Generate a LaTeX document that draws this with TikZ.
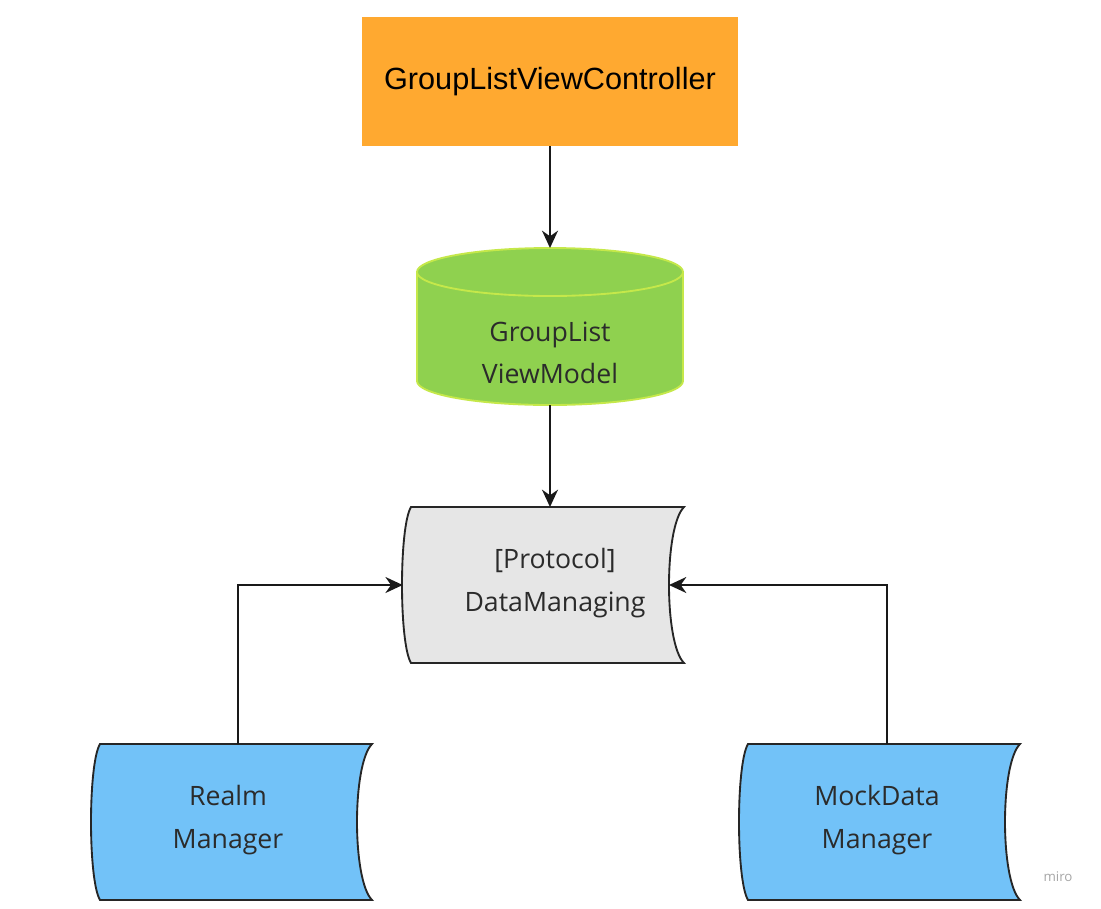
\documentclass[tikz,border=0pt]{standalone}
\usepackage{fontspec}
\setmainfont{Open Sans}
\newfontfamily\arialf{Liberation Sans}
\usetikzlibrary{shapes.geometric,arrows.meta}
\definecolor{orng}{HTML}{FFA930}
\definecolor{grn}{HTML}{8FD14F}
\definecolor{grnb}{HTML}{C5E84A}
\definecolor{gry}{HTML}{E6E6E6}
\definecolor{blu}{HTML}{72C2F8}
\definecolor{txt}{HTML}{2B2B2B}
\tikzset{
  lbl/.style={font=\fontsize{20}{32}\selectfont, text=txt, align=center},
  edge/.style={line width=1.5pt, -{Stealth[length=13pt,width=12pt]}, color=black!90},
  sd/.style={line width=1.4pt, draw=black!85},
}
\newcommand{\storeddata}[5]{% x1 y1 x2 y2 fill
  \filldraw[sd, fill=#5] (#1+8,#2) -- (#3,#2)
    .. controls (#3-20,#2+20) and (#3-20,#4-20) .. (#3,#4)
    -- (#1+8,#4)
    .. controls (#1-4,#4-20) and (#1-4,#2+20) .. (#1+8,#2) -- cycle;}
\begin{document}
\begin{tikzpicture}[x=0.75pt,y=-0.75pt]
\useasboundingbox (0,0) rectangle (1101,908);
% top box
\node[draw=none, fill=orng, minimum width=376*0.75pt, minimum height=129*0.75pt,
  font=\arialf\fontsize{23}{26}\selectfont, text=black] (vc) at (550,81.5) {GroupListViewController};
% cylinder
\filldraw[fill=grn, draw=grnb, line width=1.4pt]
  (417,272) -- (417,381) arc[start angle=180,end angle=0,x radius=133,y radius=24]
  -- (683,272) arc[start angle=0,end angle=-180,x radius=133,y radius=24];
\draw[draw=grnb, line width=1.4pt] (417,272) arc[start angle=180,end angle=0,x radius=133,y radius=24];
\node[minimum width=266*0.75pt, minimum height=157*0.75pt] (vm) at (550,326.5) {};
\node[lbl] (vmt) at (550,353) {GroupList\\ViewModel};
% stored data shapes
\storeddata{403}{507}{684}{663}{gry}
\node[minimum width=281*0.75pt, minimum height=156*0.75pt] (dm) at (543.5,585) {};
\node[lbl] (dmt) at (555,583) {[Protocol]\\DataManaging};
\storeddata{92}{744}{372}{900}{blu}
\node[lbl, minimum width=280*0.75pt, minimum height=156*0.75pt] (rm) at (228,820) {Realm\\Manager};
\storeddata{740}{744}{1020}{900}{blu}
\node[lbl, minimum width=280*0.75pt, minimum height=156*0.75pt] (md) at (877,820) {MockData\\Manager};
\coordinate (dmR) at (669,585);
\coordinate (dmT) at (550,507);
\coordinate (rmT) at (238,744);
\coordinate (mdT) at (887,744);
% connectors
\draw[edge] (vc.south) -- (550,248);
\draw[edge] (vm.south) -- (dmT);
\draw[edge] (rmT) |- (dm.west);
\draw[edge] (mdT) |- (dmR);
\node[font=\fontsize{10}{12}\selectfont, text=black!35] (miro) at (1058,877) {miro};
\end{tikzpicture}
\end{document}
